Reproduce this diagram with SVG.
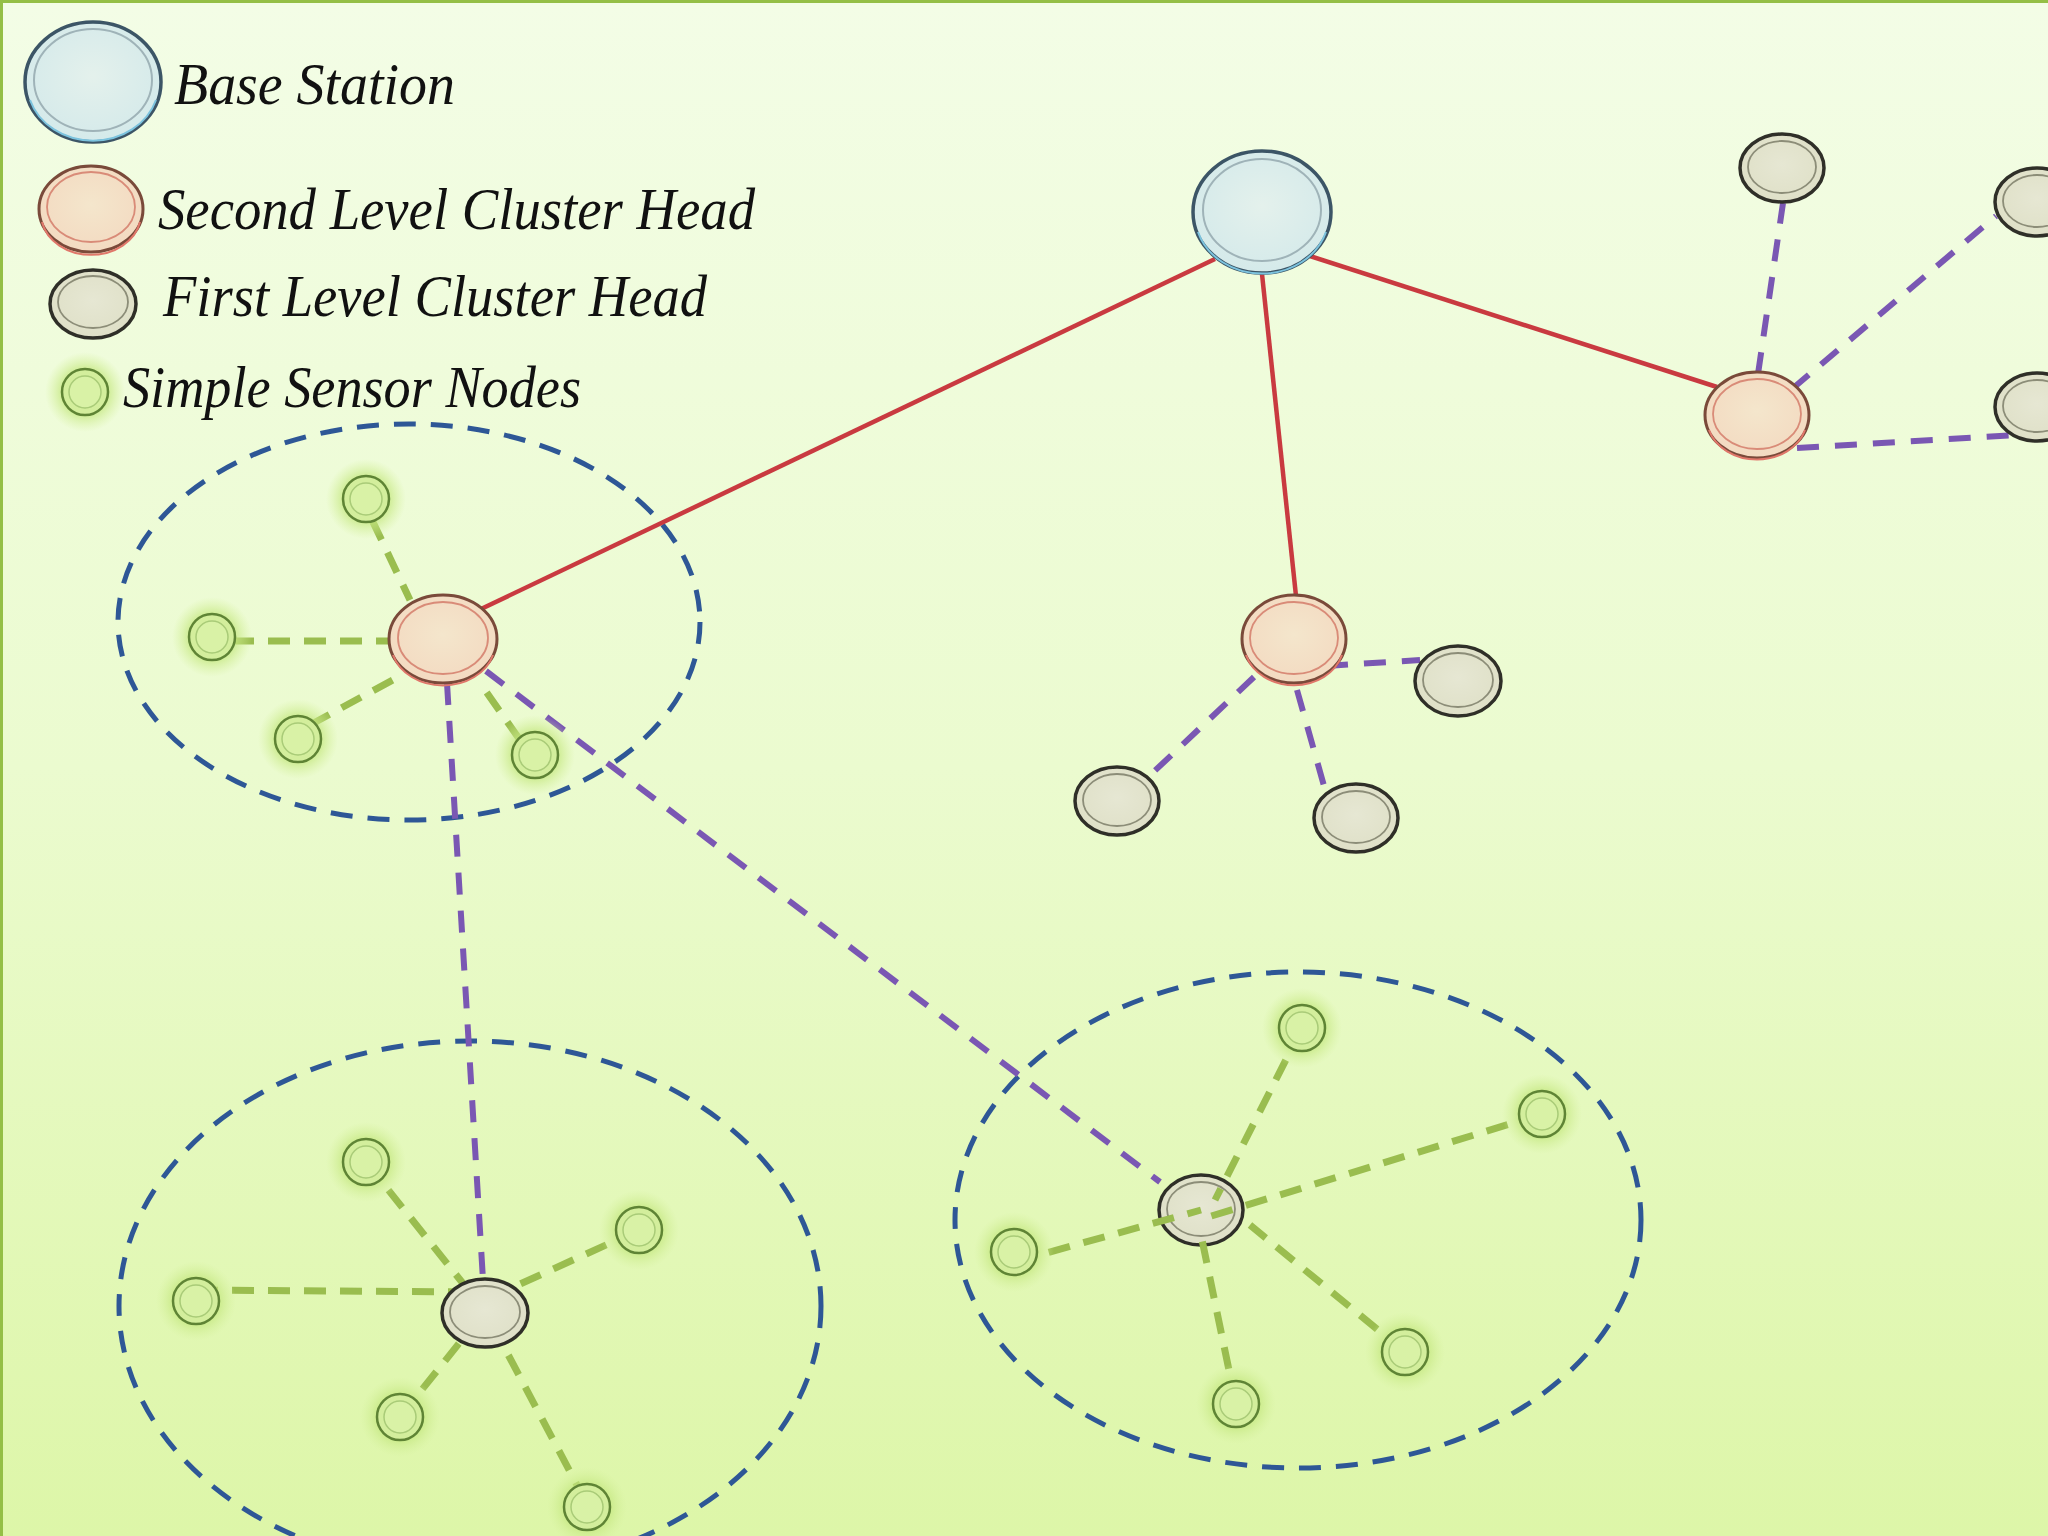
<svg xmlns="http://www.w3.org/2000/svg" width="2048" height="1536" viewBox="0 0 2048 1536">
<defs>
<linearGradient id="bg" x1="0" y1="0" x2="0" y2="1">
<stop offset="0" stop-color="#f3fde6"/>
<stop offset="0.5" stop-color="#ebfbcf"/>
<stop offset="1" stop-color="#ddf6a8"/>
</linearGradient>
<radialGradient id="glow">
<stop offset="0.5" stop-color="#c2e67c" stop-opacity="0.9"/>
<stop offset="1" stop-color="#d4f09a" stop-opacity="0"/>
</radialGradient>
<radialGradient id="bsFill" cx="0.5" cy="0.45" r="0.6">
<stop offset="0" stop-color="#e4f1ec"/>
<stop offset="1" stop-color="#d3e9ea"/>
</radialGradient>
<radialGradient id="slFill" cx="0.5" cy="0.45" r="0.6">
<stop offset="0" stop-color="#f4e6cc"/>
<stop offset="1" stop-color="#f3d9c0"/>
</radialGradient>
<radialGradient id="flFill" cx="0.5" cy="0.45" r="0.6">
<stop offset="0" stop-color="#e6e7d3"/>
<stop offset="1" stop-color="#dedfc6"/>
</radialGradient>
<g id="sensor">
<circle r="40" fill="url(#glow)"/>
<circle r="23" fill="#d3ee9c" stroke="#5f8435" stroke-width="2.5"/>
<circle r="16" fill="#d9f2a6" stroke="#a9cb78" stroke-width="1.5"/>
</g>
</defs>
<style>
.bs{fill:url(#bsFill);stroke:#3c5566;stroke-width:3.5}
.bsi{fill:none;stroke:#9fb3b8;stroke-width:2}
.bsb{fill:none;stroke:#7cc3de;stroke-width:2}
.sl{fill:url(#slFill);stroke:#7a4a3a;stroke-width:3}
.sli{fill:none;stroke:#d98b78;stroke-width:1.8}
.slb{fill:none;stroke:#e0776a;stroke-width:2}
.fl{fill:url(#flFill);stroke:#2f2f28;stroke-width:3.5}
.fli{fill:none;stroke:#8c8d78;stroke-width:1.8}
.red{stroke:#c93a40;stroke-width:4.5;fill:none}
.pur{stroke:#7a57b3;stroke-width:6;fill:none;stroke-dasharray:22 16}
.grn{stroke:#9abd4f;stroke-width:7;fill:none;stroke-dasharray:22 14}
.clu{fill:none;stroke:#2e5796;stroke-width:5;stroke-dasharray:22 15}
.lbl{font-family:"Liberation Serif","DejaVu Serif",serif;font-style:italic;font-size:60px;fill:#111}
</style>
<rect x="0" y="0" width="2048" height="1536" fill="url(#bg)"/>
<path d="M1.5,1536 V1.5 H2048" fill="none" stroke="#94bf46" stroke-width="3"/>

<g id="clusters">
<ellipse class="clu" cx="409" cy="622" rx="291" ry="198"/>
<ellipse class="clu" cx="470" cy="1306" rx="351" ry="265"/>
<ellipse class="clu" cx="1298" cy="1220" rx="343" ry="248"/>
</g>

<g id="connectors">
<line class="red" x1="1215" y1="259" x2="481" y2="609"/>
<line class="red" x1="1262" y1="274" x2="1296" y2="596"/>
<line class="red" x1="1310" y1="256" x2="1717" y2="387"/>
<line class="pur" x1="1758" y1="374" x2="1783" y2="203"/>
<line class="pur" x1="1792" y1="389" x2="1996" y2="216"/>
<line class="pur" x1="1797" y1="448" x2="2018" y2="435"/>
<line class="pur" x1="1326" y1="666" x2="1420" y2="660"/>
<line class="pur" x1="1254" y1="677" x2="1144" y2="781"/>
<line class="pur" x1="1297" y1="690" x2="1326" y2="793"/>
<line class="pur" x1="447" y1="683" x2="483" y2="1280"/>
<line class="pur" x1="486" y1="671" x2="1160" y2="1182"/>
<line class="grn" x1="372" y1="520" x2="410" y2="600"/>
<line class="grn" x1="232" y1="641" x2="392" y2="641"/>
<line class="grn" x1="310" y1="725" x2="400" y2="676"/>
<line class="grn" x1="520" y1="740" x2="480" y2="683"/>
<line class="grn" x1="366" y1="1162" x2="485" y2="1311"/>
<line class="grn" x1="639" y1="1230" x2="485" y2="1300"/>
<line class="grn" x1="196" y1="1290" x2="485" y2="1292"/>
<line class="grn" x1="400" y1="1417" x2="485" y2="1311"/>
<line class="grn" x1="586" y1="1502" x2="485" y2="1311"/>
</g>

<g id="legend-base-station">
<ellipse class="bs" cx="93" cy="82" rx="68" ry="60"/>
<ellipse class="bsi" cx="93" cy="80" rx="59" ry="51"/>
<path class="bsb" d="M30,100 A66,58 0 0 0 156,100"/>
<text class="lbl" x="174" y="104" textLength="281" lengthAdjust="spacingAndGlyphs">Base Station</text>
</g>
<g id="legend-second-level">
<ellipse class="sl" cx="91" cy="209" rx="52" ry="43"/>
<ellipse class="sli" cx="91" cy="207" rx="44" ry="35"/>
<path class="slb" d="M42,222 A50,41 0 0 0 140,222"/>
<text class="lbl" x="158" y="229" textLength="597" lengthAdjust="spacingAndGlyphs">Second Level Cluster Head</text>
</g>
<g id="legend-first-level">
<ellipse class="fl" cx="93" cy="304" rx="43" ry="34"/>
<ellipse class="fli" cx="93" cy="302" rx="35" ry="26"/>
<text class="lbl" x="163" y="316" textLength="544" lengthAdjust="spacingAndGlyphs">First Level Cluster Head</text>
</g>
<g id="legend-sensor">
<use href="#sensor" x="85" y="392"/>
<text class="lbl" x="123" y="407" textLength="458" lengthAdjust="spacingAndGlyphs">Simple Sensor Nodes</text>
</g>

<g id="base-station">
<ellipse class="bs" cx="1262" cy="212" rx="69" ry="61"/>
<ellipse class="bsi" cx="1262" cy="210" rx="59" ry="51"/>
<path class="bsb" d="M1198,232 A67,59 0 0 0 1326,232"/>
</g>
<g id="ch2-a">
<ellipse class="sl" cx="443" cy="639" rx="54" ry="44"/>
<ellipse class="sli" cx="443" cy="638" rx="45" ry="36"/>
<path class="slb" d="M393,655 A52,42 0 0 0 493,655"/>
</g>
<g id="ch2-b">
<ellipse class="sl" cx="1294" cy="639" rx="52" ry="44"/>
<ellipse class="sli" cx="1294" cy="638" rx="44" ry="36"/>
<path class="slb" d="M1246,655 A50,42 0 0 0 1342,655"/>
</g>
<g id="ch2-c">
<ellipse class="sl" cx="1757" cy="415" rx="52" ry="43"/>
<ellipse class="sli" cx="1757" cy="414" rx="44" ry="35"/>
<path class="slb" d="M1709,430 A50,41 0 0 0 1805,430"/>
</g>

<g id="ch1-1"><ellipse class="fl" cx="1782" cy="168" rx="42" ry="34"/><ellipse class="fli" cx="1782" cy="167" rx="34" ry="26"/></g>
<g id="ch1-2"><ellipse class="fl" cx="2037" cy="202" rx="42" ry="34"/><ellipse class="fli" cx="2037" cy="201" rx="34" ry="26"/></g>
<g id="ch1-3"><ellipse class="fl" cx="2037" cy="407" rx="42" ry="34"/><ellipse class="fli" cx="2037" cy="406" rx="34" ry="26"/></g>
<g id="ch1-4"><ellipse class="fl" cx="1458" cy="681" rx="43" ry="35"/><ellipse class="fli" cx="1458" cy="680" rx="35" ry="27"/></g>
<g id="ch1-5"><ellipse class="fl" cx="1117" cy="801" rx="42" ry="34"/><ellipse class="fli" cx="1117" cy="800" rx="34" ry="26"/></g>
<g id="ch1-6"><ellipse class="fl" cx="1356" cy="818" rx="42" ry="34"/><ellipse class="fli" cx="1356" cy="817" rx="34" ry="26"/></g>
<g id="ch1-7"><ellipse class="fl" cx="1201" cy="1210" rx="42" ry="35"/><ellipse class="fli" cx="1201" cy="1209" rx="34" ry="27"/></g>
<g id="ch1-8"><ellipse class="fl" cx="485" cy="1313" rx="43" ry="34"/><ellipse class="fli" cx="485" cy="1312" rx="35" ry="26"/></g>

<g id="connectors-over">
<line class="grn" x1="1302" y1="1028" x2="1215" y2="1200"/>
<line class="grn" x1="1542" y1="1114" x2="1205" y2="1218"/>
<line class="grn" x1="1014" y1="1262" x2="1201" y2="1210"/>
<line class="grn" x1="1405" y1="1352" x2="1250" y2="1225"/>
<line class="grn" x1="1236" y1="1404" x2="1200" y2="1230"/>
</g>

<g id="sensors-a">
<use href="#sensor" x="366" y="499"/>
<use href="#sensor" x="212" y="637"/>
<use href="#sensor" x="298" y="739"/>
<use href="#sensor" x="535" y="755"/>
</g>
<g id="sensors-b">
<use href="#sensor" x="366" y="1162"/>
<use href="#sensor" x="639" y="1230"/>
<use href="#sensor" x="196" y="1301"/>
<use href="#sensor" x="400" y="1417"/>
<use href="#sensor" x="587" y="1507"/>
</g>
<g id="sensors-c">
<use href="#sensor" x="1302" y="1028"/>
<use href="#sensor" x="1542" y="1114"/>
<use href="#sensor" x="1014" y="1252"/>
<use href="#sensor" x="1405" y="1352"/>
<use href="#sensor" x="1236" y="1404"/>
</g>
</svg>
